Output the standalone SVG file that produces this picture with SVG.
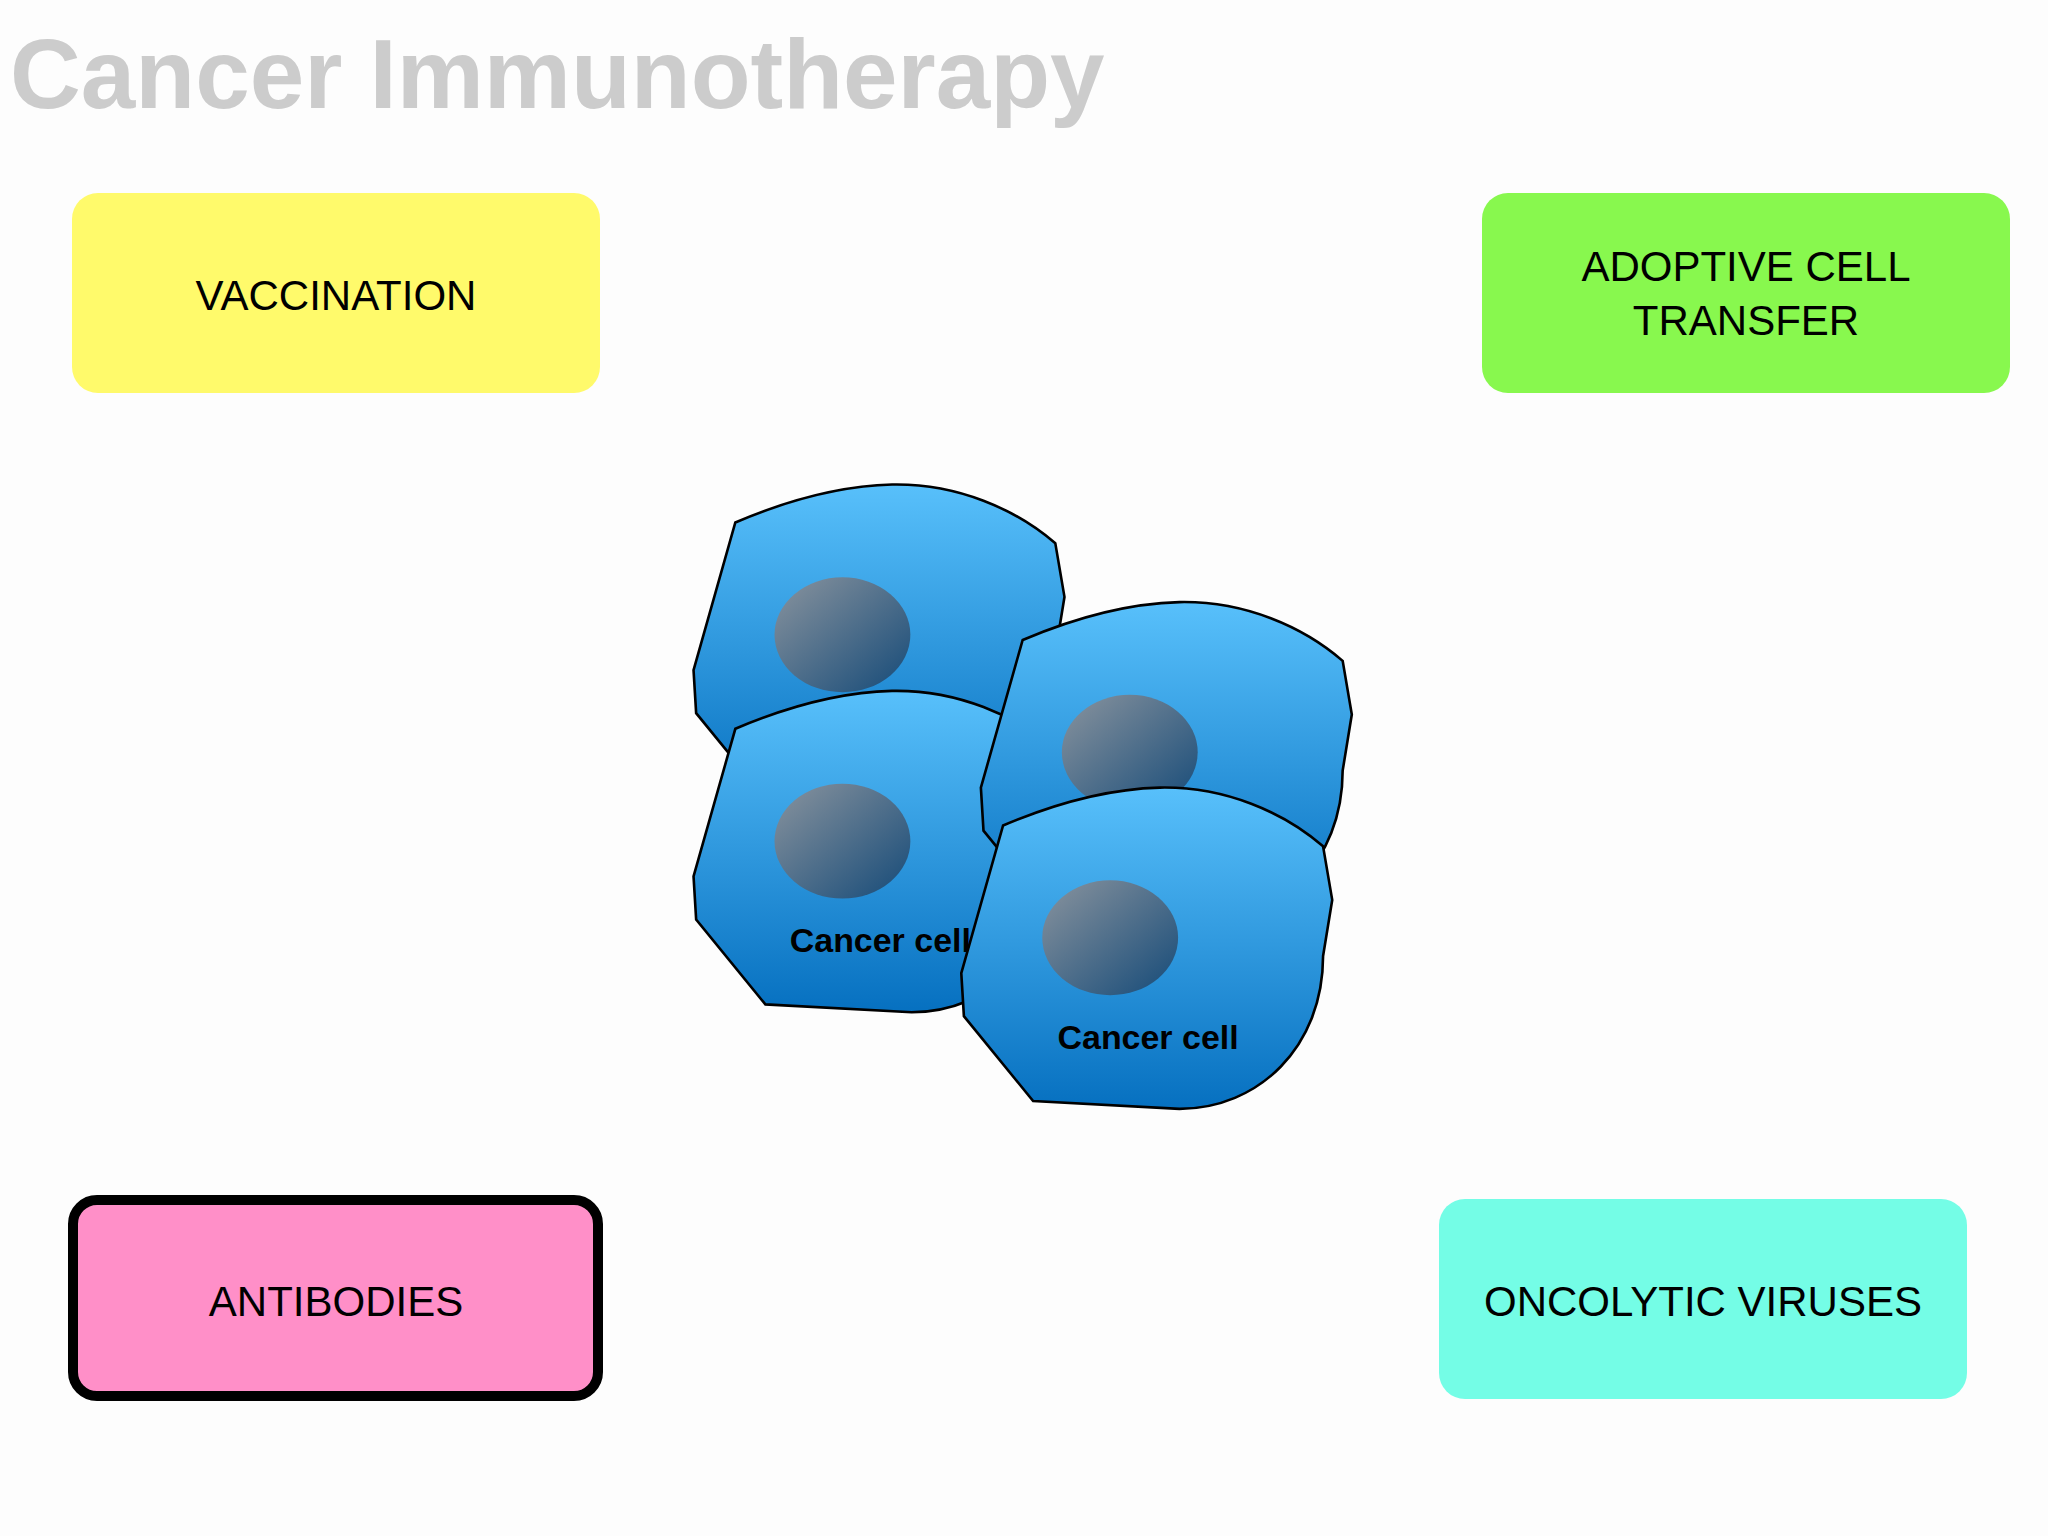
<svg xmlns="http://www.w3.org/2000/svg" width="2048" height="1536" viewBox="0 0 2048 1536">
<defs>
<linearGradient id="cellg" x1="0" y1="0" x2="0" y2="1"><stop offset="0" stop-color="#58c0fb"/><stop offset="1" stop-color="#0670c0"/></linearGradient>
<linearGradient id="nucg" x1="0" y1="0" x2="1" y2="1"><stop offset="0" stop-color="#8a949e"/><stop offset="1" stop-color="#154a78"/></linearGradient>
<path id="cellshape" d="M0,0 C40,-17 80,-28 120,-29 C170,-30 215,-10 245,16 L252,57 L245,100 C245,170 195,217 135,217 L23,211 L-30,146 L-32,113 Z"/>
</defs>
<style>
.lbl{font-family:"Liberation Sans",Arial,sans-serif;font-size:42px;fill:#000;text-anchor:middle}
.cell{fill:url(#cellg);stroke:#000;stroke-width:2}
.nuc{fill:url(#nucg)}
.clbl{font-family:"Liberation Sans",Arial,sans-serif;font-size:26px;font-weight:bold;fill:#000;text-anchor:middle}
</style>
<rect width="2048" height="1536" fill="#fdfdfd"/>
<text x="10" y="108" font-family="Liberation Sans,Arial,sans-serif" font-size="98" font-weight="bold" fill="#cccccc">Cancer Immunotherapy</text>
<g id="vaccination"><rect x="72" y="193" width="528" height="200" rx="26" fill="#fffa6b"/><text class="lbl" x="336" y="310">VACCINATION</text></g>
<g id="adoptive"><rect x="1482" y="193" width="528" height="200" rx="26" fill="#88f84e"/><text class="lbl" x="1746" y="281">ADOPTIVE CELL</text><text class="lbl" x="1746" y="335">TRANSFER</text></g>
<g id="antibodies"><rect x="73" y="1200" width="525" height="196" rx="24" fill="#ff8fc8" stroke="#000" stroke-width="10"/><text class="lbl" x="336" y="1316">ANTIBODIES</text></g>
<g id="oncolytic"><rect x="1439" y="1199" width="528" height="200" rx="26" fill="#74fde6"/><text class="lbl" x="1703" y="1316">ONCOLYTIC VIRUSES</text></g>
<g id="cells" transform="scale(1.3061)">
<g id="cell1" transform="translate(563,400)"><use href="#cellshape" class="cell"/><ellipse class="nuc" cx="82" cy="86" rx="52" ry="44"/></g>
<g id="cell2" transform="translate(563,558)"><use href="#cellshape" class="cell"/><ellipse class="nuc" cx="82" cy="86" rx="52" ry="44"/><text class="clbl" x="111" y="171">Cancer cell</text></g>
<g id="cell3" transform="translate(783,490)"><use href="#cellshape" class="cell"/><ellipse class="nuc" cx="82" cy="86" rx="52" ry="44"/></g>
<g id="cell4" transform="translate(768,632)"><use href="#cellshape" class="cell"/><ellipse class="nuc" cx="82" cy="86" rx="52" ry="44"/><text class="clbl" x="111" y="171">Cancer cell</text></g>
</g>
<g id="connectors"/>
</svg>
